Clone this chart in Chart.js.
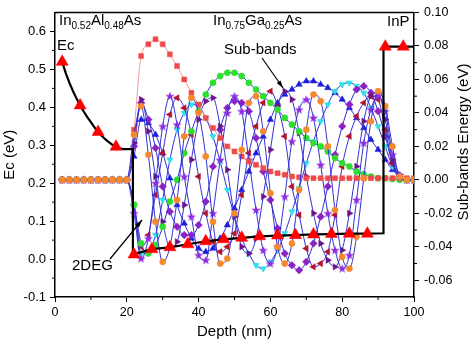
<!DOCTYPE html>
<html>
<head>
<meta charset="utf-8">
<script src="https://cdn.jsdelivr.net/npm/chart.js@4/dist/chart.umd.min.js"></script>
<style>
html,body{margin:0;padding:0;background:#fff;}
</style>
</head>
<body>
<canvas id="c" width="474" height="346"></canvas>
<script>
// depth grid of the sub-band curves (nm)
const depth = [2,4,6,8,10,12,14,16,18,20,22,24,26,28,30,32,34,36,38,40,42,44,46,48,50,52,54,56,58,60,62,64,66,68,70,72,74,76,78,80,82,84,86,88,90,92,94,96,98,100];
const barrier = [0,0,0,0,0,0,0,0,0,0]; // x = 2..20, flat in the InAlAs barrier

// sub-band curves, right axis (eV), x = 22..100
const sqBand = barrier.concat([0.030,0.074,0.081,0.084,0.081,0.075,0.068,0.060,0.052,0.045, 0.037,0.031,0.025,0.020,0.017,0.014,0.011,0.009,0.007,0.005, 0.004,0.003,0.002,0.0015,0.001,0.001,0.001,0.001,0.001,0.001, 0.001,0.001,0.001,0.001,0.001,0.001,0.001,0.001,0.001,0.001]);
const ciBand = barrier.concat([-0.015,-0.038,-0.044,-0.039,-0.028,-0.013,0.000,0.016,0.029,0.041, 0.051,0.058,0.062,0.064,0.064,0.062,0.058,0.054,0.050,0.046, 0.042,0.037,0.033,0.029,0.025,0.022,0.020,0.017,0.013,0.010, 0.008,0.005,0.0035,0.002,0.001,0.001,0.0005,0,0,0]);
const upBand = barrier.concat([0.014,0.036,0.034,0.027,0.016,0.001,-0.015,-0.026,-0.035,-0.041, -0.043,-0.041,-0.035,-0.027,-0.017,-0.006,0.005,0.016,0.026,0.036, 0.046,0.051,0.054,0.057,0.059,0.059,0.057,0.055,0.052,0.048, 0.043,0.037,0.031,0.024,0.018,0.012,0.006,0.002,0,0]);
const dnBand = barrier.concat([-0.015,-0.044,-0.043,-0.033,-0.012,0.012,0.030,0.040,0.045,0.044, 0.037,0.026,0.011,-0.006,-0.022,-0.035,-0.044,-0.051,-0.053,-0.049, -0.042,-0.032,-0.019,-0.005,0.010,0.023,0.035,0.045,0.053,0.057, 0.058,0.056,0.052,0.043,0.032,0.020,0.008,0.002,0,0]);
const dmBand = barrier.concat([0.020,0.046,0.036,0.019,-0.004,-0.019,-0.028,-0.033,-0.033,-0.027, -0.013,0.008,0.030,0.043,0.047,0.046,0.041,0.025,0.005,-0.012, -0.029,-0.044,-0.051,-0.054,-0.049,-0.038,-0.022,-0.004,0.015,0.032, 0.045,0.054,0.056,0.052,0.041,0.026,0.010,0.002,0,0]);
const ltBand = barrier.concat([-0.015,-0.040,-0.033,-0.009,0.016,0.039,0.049,0.043,0.027,0.002, -0.020,-0.037,-0.043,-0.040,-0.032,-0.009,0.016,0.032,0.046,0.053, 0.044,0.026,-0.004,-0.021,-0.041,-0.052,-0.050,-0.043,-0.021,0.008, 0.026,0.038,0.046,0.050,0.048,0.030,0.010,0.002,0,0]);
const rtBand = barrier.concat([0.022,0.048,0.029,0.002,-0.025,-0.040,-0.037,-0.015,0.012,0.036, 0.047,0.049,0.032,0.006,-0.022,-0.040,-0.044,-0.035,-0.010,0.018, 0.044,0.053,0.048,0.028,0.002,-0.020,-0.038,-0.048,-0.052,-0.042, -0.020,0.008,0.035,0.050,0.052,0.036,0.012,0.003,0,0]);
const stBand = barrier.concat([-0.020,-0.047,-0.035,-0.002,0.032,0.050,0.033,0.002,-0.022,-0.045, -0.048,-0.020,0.012,0.040,0.050,0.041,0.012,-0.018,-0.042,-0.050, -0.040,-0.010,0.023,0.042,0.048,0.037,0.009,-0.020,-0.042,-0.053, -0.045,-0.012,0.022,0.042,0.050,0.041,0.015,0.003,0,0]);
const orBand = barrier.concat([0.027,0.044,0.015,-0.025,-0.049,-0.040,-0.012,0.026,0.049,0.040, 0.014,-0.025,-0.050,-0.047,-0.020,0.018,0.046,0.050,0.029,-0.008, -0.040,-0.050,-0.038,-0.006,0.030,0.051,0.047,0.020,-0.018,-0.046, -0.053,-0.034,0.001,0.035,0.053,0.044,0.020,0.002,0,0]);

// conduction band edge, left axis (eV)
const ecLineX = [2,3,4,5,6,7,8,9,10,11,12,13,14,15,16,17,18,19,21.7,21.7,22,27,32,37,42,47,52,57,62,67,72,77,82,87,91.5,91.5,100];
const ecLineY = [0.52,0.49,0.465,0.443,0.423,0.405,0.389,0.374,0.361,0.347,0.335,0.325,0.316,0.308,0.301,0.296,0.292,0.29,0.29,0.012,0.013,0.026,0.031,0.039,0.047,0.052,0.056,0.06,0.062,0.063,0.065,0.066,0.067,0.067,0.068,0.56,0.56];
const ecMarkX = [2,7,12,17,22,27,32,37,42,47,52,57,62,67,72,77,82,87,92,97];
const ecMarkY = [0.52,0.405,0.335,0.296,0.012,0.026,0.031,0.039,0.047,0.052,0.056,0.06,0.062,0.063,0.065,0.066,0.067,0.067,0.56,0.56];

const depthTicks = [0,20,40,60,80,100];
const ecTicks = [-0.1,0,0.1,0.2,0.3,0.4,0.5,0.6];
const bandTicks = [-0.06,-0.04,-0.02,0,0.02,0.04,0.06,0.08,0.10];
const depthMinor = [10,30,50,70,90];
const ecMinor = [-0.05,0.05,0.15,0.25,0.35,0.45,0.55];
const bandMinor = [-0.05,-0.03,-0.01,0.01,0.03,0.05,0.07,0.09];

const FONT = 'Liberation Sans, Arial, sans-serif';
const lineBlue = '#2f2fd2';

// filled five-point star marker
const star = document.createElement('canvas');
star.width = 10; star.height = 10;
(function () {
    const g = star.getContext('2d');
    g.fillStyle = '#8e2de0';
    g.beginPath();
    for (let i = 0; i < 10; i++) {
        const r = i % 2 ? 2.0 : 4.8;
        const a = -Math.PI / 2 + i * Math.PI / 5;
        g.lineTo(5 + r * Math.cos(a), 5.3 + r * Math.sin(a));
    }
    g.closePath();
    g.fill();
})();

function band(label, ys, style, color, extra) {
    return Object.assign({
        label: label,
        data: ys.map((y, i) => ({x: depth[i], y: y})),
        yAxisID: 'yR',
        borderColor: lineBlue,
        borderWidth: 1,
        pointStyle: style,
        pointRadius: 3.1,
        pointBackgroundColor: color,
        pointBorderColor: color,
        pointBorderWidth: 0.5,
        cubicInterpolationMode: 'monotone'
    }, extra || {});
}

const decor = {
    id: 'decor',
    afterDraw(chart) {
        const {ctx, chartArea: a, scales} = chart;
        ctx.save();
        ctx.strokeStyle = '#000';
        ctx.fillStyle = '#000';
        ctx.lineWidth = 1.5;
        ctx.beginPath(); ctx.moveTo(a.left, a.top); ctx.lineTo(a.right, a.top); ctx.stroke();

        // minor ticks
        ctx.lineWidth = 1;
        ctx.beginPath();
        depthMinor.forEach(v => { const p = scales.x.getPixelForValue(v); ctx.moveTo(p, a.bottom); ctx.lineTo(p, a.bottom + 3); });
        ecMinor.forEach(v => { const p = scales.yL.getPixelForValue(v); ctx.moveTo(a.left, p); ctx.lineTo(a.left - 3, p); });
        bandMinor.forEach(v => { const p = scales.yR.getPixelForValue(v); ctx.moveTo(a.right, p); ctx.lineTo(a.right + 3, p); });
        ctx.stroke();

        // layer labels with subscripts
        const write = (parts, x, y) => {
            ctx.textBaseline = 'alphabetic';
            ctx.textAlign = 'left';
            parts.forEach(p => {
                const small = p[1];
                ctx.font = (small ? '10px ' : '15px ') + FONT;
                ctx.fillText(p[0], x, small ? y + 4 : y);
                x += ctx.measureText(p[0]).width;
            });
        };
        write([['In'], ['0.52', 1], ['Al'], ['0.48', 1], ['As']], 59, 25);
        write([['In'], ['0.75', 1], ['Ga'], ['0.25', 1], ['As']], 213, 25);
        write([['InP']], 387, 26);
        write([['Ec']], 57, 50);
        write([['Sub-bands']], 224, 54);
        write([['2DEG']], 72, 270);

        const arrow = (x1, y1, x2, y2) => {
            ctx.lineWidth = 1.2;
            ctx.beginPath(); ctx.moveTo(x1, y1); ctx.lineTo(x2, y2); ctx.stroke();
            const ang = Math.atan2(y2 - y1, x2 - x1);
            ctx.beginPath();
            ctx.moveTo(x2, y2);
            ctx.lineTo(x2 - 8 * Math.cos(ang - 0.3), y2 - 8 * Math.sin(ang - 0.3));
            ctx.lineTo(x2 - 8 * Math.cos(ang + 0.3), y2 - 8 * Math.sin(ang + 0.3));
            ctx.closePath(); ctx.fill();
        };
        arrow(262, 58, 283, 88);
        arrow(110, 259, 142, 220);

        // right axis title reads bottom to top
        ctx.translate(464, 142);
        ctx.rotate(-Math.PI / 2);
        ctx.font = '15px ' + FONT;
        ctx.textAlign = 'center';
        ctx.textBaseline = 'middle';
        ctx.fillText('Sub-bands Energy (eV)', 0, 0);
        ctx.restore();
    }
};

const tickFont = {family: FONT, size: 12.5};
const axisGrid = {drawOnChartArea: false, drawTicks: true, tickLength: 5, color: '#000', lineWidth: 1};
const axisBorder = {color: '#000', width: 1.5};

new Chart(document.getElementById('c'), {
    type: 'line',
    data: {
        datasets: [
            {
                label: 'Ec markers',
                data: ecMarkX.map((x, i) => ({x: x, y: ecMarkY[i]})),
                yAxisID: 'yL', showLine: false,
                pointStyle: 'triangle', pointRadius: 7,
                pointBackgroundColor: '#ff0000', pointBorderColor: '#ff0000', pointBorderWidth: 0.5
            },
            {
                label: 'Ec',
                data: ecLineX.map((x, i) => ({x: x, y: ecLineY[i]})),
                yAxisID: 'yL', borderColor: '#000', borderWidth: 2.2,
                pointRadius: 0, tension: 0
            },
            band('orange', orBand, 'circle', '#f5892e'),
            band('squares', sqBand, 'rect', '#ef4a4a', {borderColor: '#f29a9a', pointRadius: 3.5}),
            band('green', ciBand, 'circle', '#2ee02e'),
            band('stars', stBand, star, '#8e2de0'),
            band('right', rtBand, 'triangle', '#6d1388', {pointRotation: 90, pointRadius: 3.7}),
            band('left', ltBand, 'triangle', '#b5122e', {pointRotation: 270, pointRadius: 3.7}),
            band('diamonds', dmBand, 'rectRot', '#8d22c4', {pointRadius: 3.8}),
            band('cyan', dnBand, 'triangle', '#2ee0e8', {pointRotation: 180, pointRadius: 3.7}),
            band('blue', upBand, 'triangle', '#1c1ce0', {pointRadius: 3.7})
        ]
    },
    options: {
        responsive: false,
        animation: false,
        layout: {padding: {top: 7, left: 0, right: 0, bottom: 0}},
        plugins: {legend: {display: false}, tooltip: {enabled: false}},
        scales: {
            x: {
                type: 'linear', min: 0, max: 100,
                afterBuildTicks: s => { s.ticks = depthTicks.map(v => ({value: v})); },
                afterFit: s => { s.height = 49; },
                grid: axisGrid, border: axisBorder,
                ticks: {color: '#000', font: tickFont, padding: 3, maxRotation: 0},
                title: {display: true, text: 'Depth (nm)', color: '#000', font: {family: FONT, size: 15}, padding: {top: 0, bottom: 5}}
            },
            yL: {
                type: 'linear', position: 'left', min: -0.1, max: 0.65,
                afterBuildTicks: s => { s.ticks = ecTicks.map(v => ({value: v})); },
                afterFit: s => { s.width = 55; },
                grid: axisGrid, border: axisBorder,
                ticks: {color: '#000', font: {family: FONT, size: 13}, padding: 4, callback: v => v.toFixed(1)},
                title: {display: true, text: 'Ec (eV)', color: '#000', font: {family: FONT, size: 15}, padding: {top: 1, bottom: 0}}
            },
            yR: {
                type: 'linear', position: 'right', min: -0.07, max: 0.10,
                afterBuildTicks: s => { s.ticks = bandTicks.map(v => ({value: v})); },
                afterFit: s => { s.width = 60; },
                grid: axisGrid, border: axisBorder,
                ticks: {color: '#000', font: tickFont, padding: 5, callback: v => v.toFixed(2)}
            }
        }
    },
    plugins: [decor]
});
</script>
</body>
</html>
